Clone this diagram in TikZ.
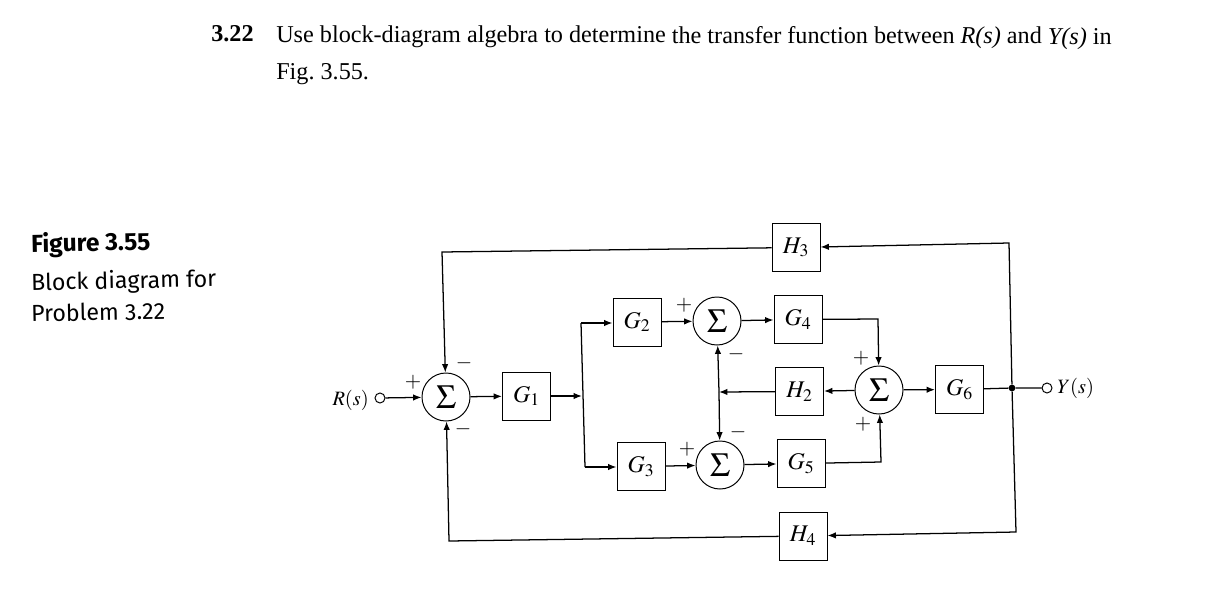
\documentclass[tikz,border=0pt]{standalone}
\usepackage{mathptmx}
\usepackage[no-math]{fontspec}
\setmainfont{Liberation Serif}
\newfontfamily\capfont{Fira Sans}
\usetikzlibrary{arrows.meta}
\newcommand{\bigsum}{\fontsize{24}{26}\selectfont$\Sigma$}
\frenchspacing
\tikzset{
    block/.style={draw, line width=0.7pt, minimum size=1.2cm, inner sep=0pt, font=\fontsize{17}{20}\selectfont},
    sumnode/.style={draw, circle, line width=0.7pt, minimum size=1.2cm, inner sep=0pt},
    terminal/.style={draw, circle, line width=0.7pt, minimum size=0.25cm, inner sep=0pt},
    junction/.style={fill, circle, minimum size=0.17cm, inner sep=0pt},
    sign/.style={inner sep=0pt, font=\fontsize{15}{18}\selectfont},
    sigtext/.style={inner sep=0pt, font=\fontsize{14.5}{18}\selectfont},
    bodytext/.style={anchor=base west, inner sep=0pt, font=\fontsize{17.2}{20}\selectfont},
    captext/.style={anchor=base west, inner sep=0pt, rotate=1.2, font=\capfont\fontsize{16.5}{20}\selectfont},
    wire/.style={line width=0.9pt, -{Latex[length=6pt,width=4.6pt]}}
}
\begin{document}
\begin{tikzpicture}[x=0.025cm, y=-0.025cm]
    \useasboundingbox (0,0) rectangle (1208,598);

    % Problem text
    \node[bodytext] (num) at (211,42) {\textbf{3.22}};
    \node[bodytext, rotate=-0.15] (line1) at (276,42) {Use block-diagram algebra to determine the transfer function between \textit{R(s)} and \textit{Y(s)} in};
    \node[bodytext] (line2) at (276,79) {Fig. 3.55.};

    % Caption
    \node[captext, font=\capfont\fontsize{17.5}{20}\selectfont] (capa) at (31,252.5) {\textbf{Figure 3.55}};
    \node[captext] (capb) at (31,290.5) {Block diagram for};
    \node[captext] (capc) at (31,322) {Problem 3.22};

    % Blocks
    \node[block] (G1) at (526.5,396) {$G_1$};
    \node[block] (G2) at (637,322) {$G_2$};
    \node[block] (G3) at (641,466.5) {$G_3$};
    \node[block] (G4) at (798,319.5) {$G_4$};
    \node[block] (G5) at (801,463.5) {$G_5$};
    \node[block] (G6) at (959.5,389.5) {$G_6$};
    \node[block] (H2) at (799.5,391.5) {$H_2$};
    \node[block] (H3) at (796,247.5) {$H_3$};
    \node[block] (H4) at (803,536) {$H_4$};

    % Summing junctions
    \node[sumnode] (sumA) at (446,397) {\bigsum};
    \node[sumnode] (sumB) at (717,321) {\bigsum};
    \node[sumnode] (sumC) at (720,465) {\bigsum};
    \node[sumnode] (sumD) at (879,390) {\bigsum};

    % Input and output
    \node[terminal] (inp) at (380,398) {};
    \node[sigtext, anchor=east] (inlab) at (369,400) {$R(s)$};
    \node[terminal] (outp) at (1047,388) {};
    \node[sigtext, anchor=west] (outlab) at (1057,388) {$Y(s)$};
    \node[junction] (takeoff) at (1012,388) {};

    % Corners and branch points
    \coordinate (branch) at (582,396);
    \coordinate (brtop) at (581,323);
    \coordinate (brbot) at (585,467);
    \coordinate (mid) at (719,392);
    \coordinate (topL) at (442,252);
    \coordinate (topR) at (1009,243);
    \coordinate (botL) at (449,541);
    \coordinate (botR) at (1016,532);
    \coordinate (cornA) at (878,319);
    \coordinate (cornB) at (881,462);

    % Forward path
    \draw[wire] (inp) -- (sumA);
    \draw[wire] (sumA) -- (G1);
    \draw[wire] (G1) -- (branch);
    \draw[line width=0.9pt] (brtop) -- (brbot);
    \draw[wire] (brtop) -- (G2.west |- brtop);
    \draw[wire] (brbot) -- (G3.west |- brbot);
    \draw[wire] (G2) -- (sumB);
    \draw[wire] (G3) -- (sumC);
    \draw[wire] (sumB) -- (G4);
    \draw[wire] (sumC) -- (G5);
    \draw[wire] (G4) -- (cornA) -- (sumD);
    \draw[wire] (G5) -- (cornB) -- (sumD);
    \draw[wire] (sumD) -- (G6);
    \draw[line width=0.9pt] (G6) -- (takeoff) -- (outp);

    % Inner feedback
    \draw[wire] (sumD) -- (H2);
    \draw[wire] (H2) -- (mid);
    \draw[wire] (mid) -- (sumB);
    \draw[wire] (mid) -- (sumC);

    % Outer feedback
    \draw[wire] (takeoff) -- (topR) -- (H3);
    \draw[wire] (H3) -- (topL) -- (sumA);
    \draw[wire] (takeoff) -- (botR) -- (H4);
    \draw[wire] (H4) -- (botL) -- (sumA);

    % Signs
    \node[sign] (s1) at (413,382) {$+$};
    \node[sign] (s2) at (464,363) {$-$};
    \node[sign] (s3) at (463,429) {$-$};
    \node[sign] (s4) at (684,305) {$+$};
    \node[sign] (s5) at (687,449) {$+$};
    \node[sign] (s6) at (736,354) {$-$};
    \node[sign] (s7) at (738,432) {$-$};
    \node[sign] (s8) at (861,358) {$+$};
    \node[sign] (s9) at (863,424) {$+$};
\end{tikzpicture}
\end{document}
